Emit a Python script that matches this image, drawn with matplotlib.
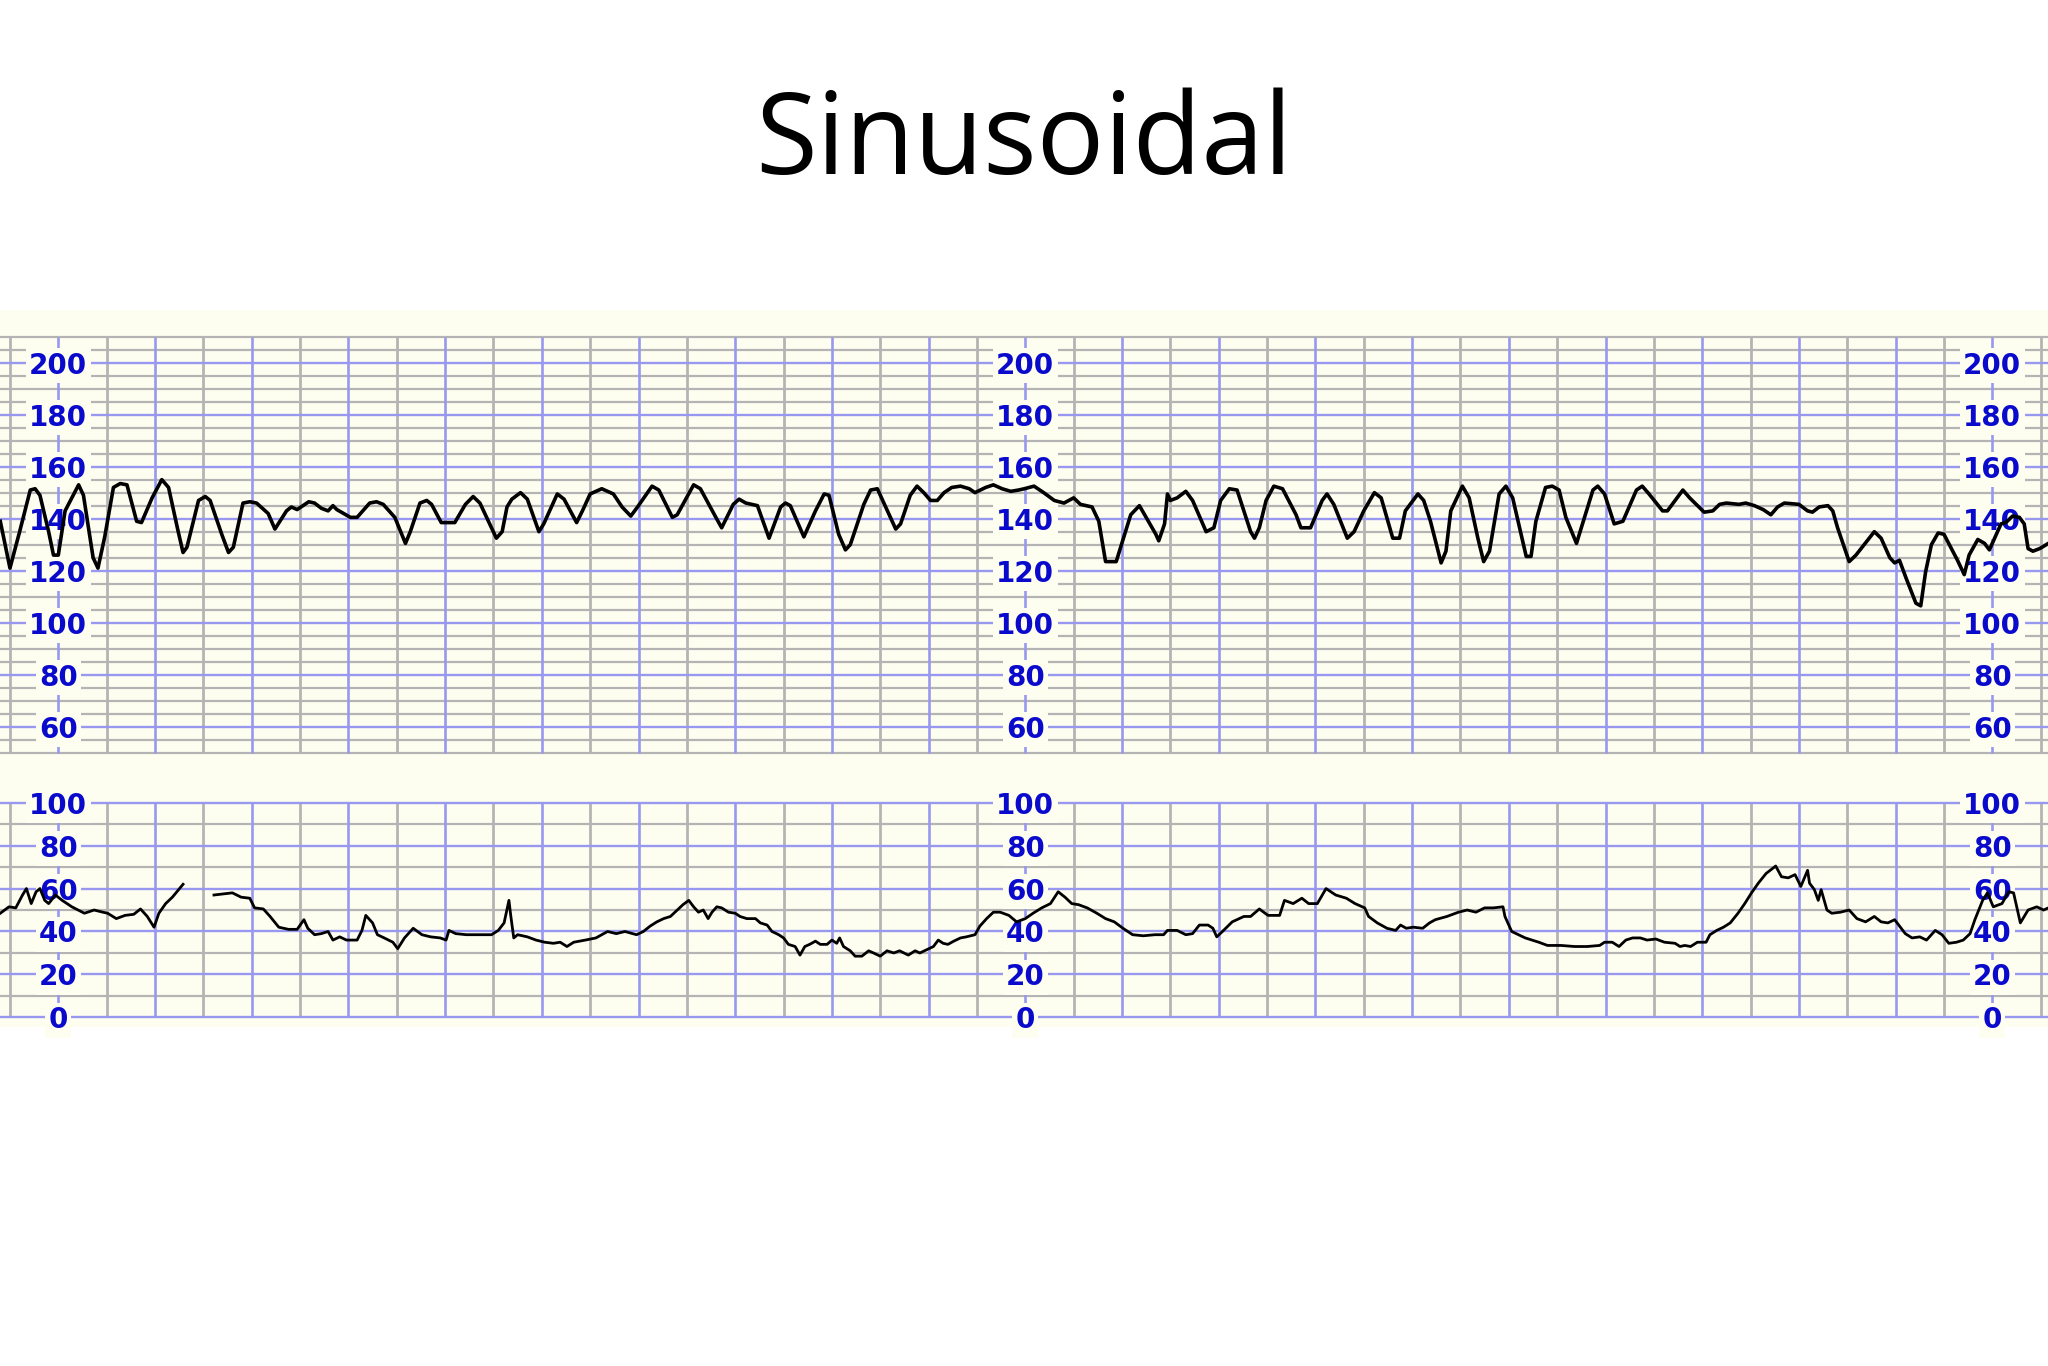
import numpy as np
import matplotlib.pyplot as plt

# fetal heart rate trace (minutes, bpm)
fhr_time = [
    -0.60, -0.50, -0.40, -0.29, -0.24, -0.19, -0.10, -0.05, 0.00, 0.07,
    0.21, 0.26, 0.36, 0.41, 0.48, 0.57, 0.64, 0.71, 0.81, 0.86,
    0.97, 1.07, 1.14, 1.24, 1.29, 1.33, 1.45, 1.52, 1.57, 1.69,
    1.76, 1.81, 1.91, 1.98, 2.05, 2.17, 2.24, 2.36, 2.41, 2.47,
    2.59, 2.65, 2.72, 2.79, 2.84, 2.88, 3.02, 3.09, 3.22, 3.29,
    3.36, 3.48, 3.59, 3.64, 3.74, 3.81, 3.86, 3.96, 4.10, 4.21,
    4.29, 4.36, 4.48, 4.53, 4.59, 4.64, 4.69,
    4.78, 4.85, 4.97, 5.02, 5.16, 5.23, 5.36, 5.42, 5.50, 5.62,
    5.74, 5.83, 5.92, 5.99, 6.14, 6.21, 6.35, 6.40, 6.57, 6.64,
    6.80, 6.86, 6.98, 7.04, 7.11, 7.23, 7.35, 7.47, 7.52, 7.57,
    7.71, 7.83, 7.92, 7.97, 8.07, 8.14, 8.19, 8.33, 8.40, 8.47,
    8.66, 8.71, 8.81, 8.88, 8.95, 9.02, 9.09, 9.16, 9.24, 9.33,
    9.42, 9.48, 9.59, 9.67, 9.76, 9.85, 9.93, 9.99,
    10.09, 10.19, 10.30, 10.40, 10.50, 10.57, 10.69, 10.76, 10.83, 10.94,
    11.09, 11.18, 11.35, 11.38, 11.44, 11.47, 11.50, 11.57, 11.66, 11.73,
    11.87, 11.95, 12.02, 12.11, 12.19, 12.33, 12.37, 12.42, 12.49, 12.57,
    12.66, 12.80, 12.85, 12.95, 13.07, 13.12, 13.19, 13.33, 13.40, 13.50,
    13.61, 13.68, 13.80, 13.87, 13.93, 14.06, 14.12, 14.19, 14.30, 14.35,
    14.40, 14.52, 14.59, 14.68, 14.74, 14.80, 14.90, 14.97, 15.04, 15.18,
    15.23,
    15.28, 15.38, 15.45, 15.52, 15.59, 15.70, 15.75, 15.87, 15.92, 15.99,
    16.09, 16.18, 16.32, 16.38, 16.45, 16.59, 16.64, 16.80, 16.87, 17.02,
    17.11, 17.18, 17.25, 17.38, 17.45, 17.54, 17.63, 17.71, 17.78, 17.85,
    18.00, 18.09, 18.14, 18.21, 18.30, 18.35, 18.40, 18.52, 18.59, 18.78,
    18.85, 18.94, 18.99, 19.04, 19.11, 19.21, 19.26, 19.31, 19.37, 19.44,
    19.50, 19.64, 19.71, 19.76, 19.85, 19.92, 19.97, 20.09, 20.14, 20.21,
    20.28, 20.33, 20.37, 20.42, 20.49, 20.58,
]
fhr_bpm = [
    139, 121, 135, 151, 151.5, 149, 135, 126, 126, 143,
    153, 149, 125, 121, 133, 152, 153.5, 153, 139, 138.5,
    148, 155, 152, 135, 127, 129, 147, 148.5, 147, 134,
    127, 129, 146, 146.5, 146, 142, 136, 143, 144.5, 143.5,
    146.5, 146, 144, 143, 145, 143.5, 140.5, 140.5, 146, 146.5,
    145.5, 140.5, 130.5, 135, 146, 147, 145.5, 138.5, 138.5, 145.5,
    148.5, 146, 136.5, 132.5, 135, 144.5, 147.5,
    150, 147.5, 135, 138, 149.5, 147.5, 138.5, 143, 149.5, 151.5,
    149.5, 144.5, 141, 144.5, 152.5, 151, 140.5, 141.5, 153, 151.5,
    140.5, 136.5, 145.5, 147.5, 146, 145, 132.5, 144.5, 146, 145,
    133, 143, 149.5, 149, 134, 128, 130, 145.5, 151, 151.5,
    136, 138, 149, 152.5, 150, 147, 147, 150, 152, 152.5,
    151.5, 150, 152, 153, 151.5, 150.5, 151, 151.5,
    152.5, 150, 147, 146, 148, 145.5, 144.5, 139, 123.5, 123.5,
    141.5, 145, 134, 131.5, 138, 149.5, 147, 148, 150.5, 147,
    135, 136.5, 147, 151.5, 151, 135, 132.5, 136.5, 147, 152.5,
    151.5, 141.5, 136.5, 136.5, 147, 149.5, 145.5, 132.5, 135, 143,
    150, 148, 132.5, 132.5, 143, 149.5, 147, 139, 123, 127.5,
    143, 152.5, 148, 132.5, 123.5, 127.5, 149.5, 152.5, 148, 125.5,
    125.5,
    139, 152, 152.5, 151, 140.5, 130.5, 136.5, 151, 152.5, 149.5,
    138, 139, 151, 152.5, 149.5, 143, 143, 151, 148, 142.5,
    143, 145.5, 146, 145.5, 146, 145, 143.5, 141.5, 144.5, 146,
    145.5, 143, 142.5, 144.5, 145, 143, 136.5, 123.5, 126, 135,
    132.5, 125, 123, 124, 117, 107.5, 106.5, 119.5, 130, 134.5,
    134, 124, 118.5, 126, 132, 130.5, 128, 138, 138.5, 141,
    140.5, 138, 128.5, 127.5, 128.5, 130.5,
]

# uterine activity trace (minutes, units), nan = signal loss
ua_time = [
    -0.60, -0.51, -0.44, -0.37, -0.33, -0.28, -0.23, -0.19, -0.14, -0.10,
    -0.03, 0.04, 0.14, 0.27, 0.37, 0.46, 0.51, 0.60, 0.69, 0.78,
    0.85, 0.92, 0.99, 1.04, 1.11, 1.18, 1.29, 1.45, 1.61, 1.80,
    1.89, 1.98, 2.03, 2.12, 2.19, 2.28, 2.38, 2.47, 2.54, 2.58,
    2.65, 2.72, 2.79, 2.84, 2.91, 2.98, 3.09, 3.14, 3.18, 3.25,
    3.30, 3.37, 3.46, 3.51, 3.58, 3.67, 3.76, 3.85, 3.95, 4.01,
    4.04, 4.11, 4.22, 4.48, 4.55, 4.61, 4.66, 4.68, 4.71, 4.75,
    4.85, 4.94, 5.03, 5.12, 5.19, 5.26, 5.33, 5.45, 5.56, 5.68,
    5.77, 5.86, 5.98, 6.05,
    6.12, 6.19, 6.26, 6.33, 6.40, 6.46, 6.52, 6.57, 6.62, 6.67,
    6.72, 6.76, 6.81, 6.86, 6.93, 7.00, 7.05, 7.12, 7.21, 7.26,
    7.33, 7.38, 7.45, 7.50, 7.55, 7.62, 7.67, 7.72, 7.77, 7.83,
    7.88, 7.95, 8.00, 8.05, 8.08, 8.12, 8.19, 8.24, 8.31, 8.38,
    8.43, 8.50, 8.57, 8.64, 8.70, 8.79, 8.86, 8.91, 8.98, 9.05,
    9.10, 9.15, 9.20, 9.26, 9.33, 9.39, 9.48, 9.53, 9.60, 9.67,
    9.74, 9.83, 9.91, 10.00, 10.08, 10.17, 10.26,
    10.34, 10.41, 10.48, 10.55, 10.64, 10.74, 10.83, 10.92, 11.01, 11.11,
    11.22, 11.34, 11.43, 11.47, 11.57, 11.66, 11.73, 11.80, 11.89, 11.94,
    11.98, 12.05, 12.14, 12.26, 12.33, 12.42, 12.51, 12.63, 12.68, 12.77,
    12.86, 12.93, 13.02, 13.11, 13.21, 13.32, 13.41, 13.51, 13.55, 13.64,
    13.74, 13.83, 13.88, 13.94, 14.01, 14.11, 14.18, 14.24, 14.36, 14.48,
    14.57, 14.66, 14.75, 14.84, 14.94, 14.96, 15.03, 15.10, 15.17, 15.31,
    15.40, 15.54, 15.68, 15.81, 15.94,
    15.99, 16.07, 16.14, 16.21, 16.28, 16.36, 16.43, 16.52, 16.61, 16.72,
    16.77, 16.82, 16.88, 16.95, 17.04, 17.08, 17.15, 17.22, 17.29, 17.37,
    17.44, 17.51, 17.58, 17.66, 17.76, 17.82, 17.89, 17.96, 18.02, 18.09,
    18.11, 18.16, 18.20, 18.23, 18.29, 18.34, 18.43, 18.52, 18.60, 18.69,
    18.78, 18.85, 18.92, 18.99, 19.10, 19.17, 19.25, 19.32, 19.41, 19.48,
    19.55, 19.63, 19.70, 19.77, 19.82, 19.90, 19.95, 20.01, 20.10, 20.17,
    20.22, 20.29, 20.37, 20.46, 20.53, 20.58,
]
ua_val = [
    48.5, 51.5, 51, 57, 60, 53, 58.5, 60, 54.5, 53,
    57, 54.5, 51.5, 48.5, 50, 49, 48.5, 46, 47.5, 48,
    50.5, 47, 42, 48.5, 53, 56, 62, np.nan, 57, 58,
    56, 55.5, 51, 50.5, 47, 42, 41, 41, 45.5, 41.5,
    38.5, 39, 40, 36, 37.5, 36, 36, 40.5, 47.5, 44,
    38.5, 37, 35, 32, 37, 41.5, 38.5, 37.5, 37, 36,
    40.5, 39, 38.5, 38.5, 40.5, 44, 54.5, 47, 37, 38.5,
    37.5, 36, 35, 34.5, 35, 33, 35, 36, 37, 40,
    39, 40, 38.5, 40,
    42.5, 44.5, 46, 47, 50, 52.5, 54.5, 51.5, 49, 50,
    46, 49, 51.5, 51, 49, 48.5, 47, 46, 46, 44,
    43, 40, 38.5, 37, 34, 33, 29, 33, 34, 35.5,
    34, 34, 36, 34.5, 37, 33, 31, 28.5, 28.5, 31,
    30, 28.5, 31, 30, 31, 29, 31, 30, 31.5, 33,
    36, 34.5, 34, 35.5, 37, 37.5, 38.5, 42.5, 46, 49,
    49, 47.5, 44.5, 46, 48.5, 51, 53,
    58.5, 56, 53, 52.5, 51, 48.5, 46, 44.5, 41.5, 38.5,
    38, 38.5, 38.5, 40.5, 40.5, 38.5, 39, 43, 43, 41.5,
    37.5, 40.5, 44.5, 47, 47, 50.5, 47.5, 47.5, 54.5, 53,
    55.5, 53, 53, 60, 57, 55.5, 53, 51, 47, 44,
    41.5, 40.5, 43, 41.5, 42, 41.5, 44, 45.5, 47, 49,
    50, 49, 51, 51, 51.5, 47, 40, 38.5, 37, 35,
    33.5, 33.5, 33, 33, 33.5,
    35, 35, 33, 36, 37, 37, 36, 36.5, 35, 34.5,
    33, 33.5, 33, 35, 35, 38.5, 40.5, 42, 44, 48.5,
    53, 58, 62.5, 67, 70.5, 65.5, 65, 66.5, 61, 68.5,
    62.5, 59.5, 54.5, 59.5, 50, 48.5, 49, 50, 46, 44.5,
    47, 44.5, 44, 45.5, 39, 37, 37.5, 36, 40.5, 38.5,
    34.5, 35, 36, 39, 45.5, 54.5, 58, 51.5, 53, 58.5,
    58, 44, 50, 51.5, 50, 51,
]

label_cols = [0, 10, 20]
fhr_labels = [60, 80, 100, 120, 140, 160, 180, 200]
ua_labels = [0, 20, 40, 60, 80, 100]

CREAM = '#fefef0'
BLUE_GRID = '#9898f0'
GRAY_GRID = '#b4b4b4'
LABEL_BLUE = '#0a0acc'
T0, T1 = -0.603, 20.576


def paper(ax, lo, hi, minor, major, labels, ylim):
    """cream chart paper with gray minor / blue major lines"""
    ax.set_facecolor(CREAM)
    for s in ax.spines.values():
        s.set_visible(False)
    ax.set_xticks([])
    ax.set_yticks([])
    ax.set_xlim(T0, T1)
    ax.set_ylim(*ylim)

    levels = np.arange(lo, hi + 0.01, minor)
    minutes = np.arange(-0.5, 20.51, 0.5)
    gray_h = [v for v in levels if v % major != 0]
    blue_h = [v for v in levels if v % major == 0]
    gray_v = [m for m in minutes if m % 1 != 0]
    blue_v = [m for m in minutes if m % 1 == 0]
    ax.hlines(gray_h, T0, T1, color=GRAY_GRID, lw=1.6, zorder=1)
    ax.vlines(gray_v, lo, hi, color=GRAY_GRID, lw=2.0, zorder=1)
    ax.hlines(blue_h, T0, T1, color=BLUE_GRID, lw=1.7, zorder=2)
    ax.vlines(blue_v, lo, hi, color=BLUE_GRID, lw=1.9, zorder=2)

    for c in label_cols:
        for v in labels:
            ax.text(c, v, str(v), ha='center', va='center_baseline',
                    fontsize=20, fontweight='bold', color=LABEL_BLUE,
                    family='DejaVu Sans', zorder=4,
                    bbox=dict(boxstyle='square,pad=0.12', fc=CREAM, ec='none'))


fig = plt.figure(figsize=(20.48, 13.66), dpi=100)
fig.text(0.5, 1 - 174 / 1366, 'Sinusoidal', ha='center', va='baseline',
         fontsize=81, family=['Open Sans', 'DejaVu Sans'])

# heart rate strip
ax1 = fig.add_axes([0, 1 - 757 / 1366, 1, 447 / 1366])
paper(ax1, 50, 210, 5, 20, fhr_labels, (48.4, 220.2))
ax1.plot(fhr_time, fhr_bpm, color='black', lw=2.6, zorder=5)

# contraction strip
ax2 = fig.add_axes([0, 1 - 1027 / 1366, 1, 270 / 1366])
paper(ax2, 0, 100, 10, 20, ua_labels, (-4.5, 121.3))
ax2.plot(ua_time, ua_val, color='black', lw=2.0, zorder=5)

fig.savefig('out.png', dpi=100, facecolor='white')
